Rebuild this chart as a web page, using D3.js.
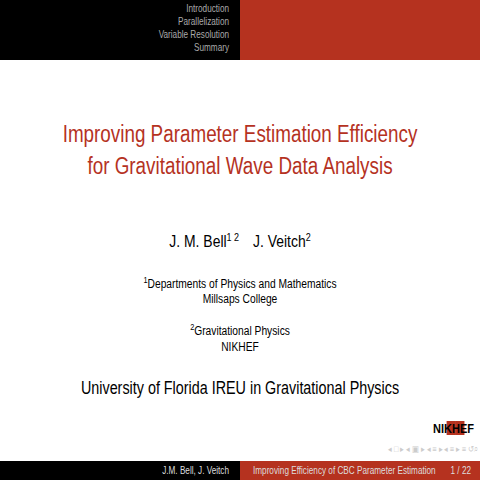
<!DOCTYPE html><html><head><meta charset="utf-8"><script src="https://cdn.jsdelivr.net/npm/d3@7"></script>
<style>body{margin:0}text{font-family:"Liberation Sans",sans-serif}</style></head><body><script>
const navItems=["Introduction","Parallelization","Variable Resolution","Summary"];
const titleLines=["Improving Parameter Estimation Efficiency","for Gravitational Wave Data Analysis"];
const affil1=["Departments of Physics and Mathematics","Millsaps College"];
const affil2=["Gravitational Physics","NIKHEF"];
const footer=["J.M. Bell, J. Veitch","Improving Efficiency of CBC Parameter Estimation","1 / 22"];
const red="#b5321f", K=0.82;
const svg=d3.select("body").append("svg").attr("width",480).attr("height",480);
svg.append("rect").attr("width",480).attr("height",480).attr("fill","#fff");
svg.append("rect").attr("width",240).attr("height",60).attr("fill","#000");
svg.append("rect").attr("x",240).attr("width",240).attr("height",60).attr("fill",red);
function T(ax,ay,anchor,size,fill){return svg.append("g").attr("transform",`translate(${ax},${ay}) scale(${K},1)`).append("text").attr("text-anchor",anchor).attr("font-size",size).attr("fill",fill||"#000");}
const y=d3.scaleLinear().domain([0,3]).range([12,51]);
navItems.forEach((d,i)=>T(229,y(i),"end",10,"#aaa").text(d));
titleLines.forEach((d,i)=>T(240,142+i*32,"middle",23,red).text(d));
const a=T(240,247,"middle",17);
a.append("tspan").text("J. M. Bell");a.append("tspan").attr("dy",-6).attr("font-size",11).text("1 2");
a.append("tspan").attr("dy",6).text("\u2002\u2002J. Veitch");a.append("tspan").attr("dy",-6).attr("font-size",11).text("2");
const f1=T(240,288,"middle",12.5);
f1.append("tspan").attr("dy",-5).attr("font-size",9).text("1");f1.append("tspan").attr("dy",5).text(affil1[0]);
T(240,303,"middle",12.5).text(affil1[1]);
const f2=T(240,335,"middle",12.5);
f2.append("tspan").attr("dy",-5).attr("font-size",9).text("2");f2.append("tspan").attr("dy",5).text(affil2[0]);
T(240,351,"middle",12.5).text(affil2[1]);
T(240,394,"middle",17.5).text("University of Florida IREU in Gravitational Physics");
// logo
const lg=svg.append("g").attr("transform","translate(433,433) scale(0.85,1)");
lg.append("rect").attr("x",16).attr("y",-12).attr("width",11).attr("height",14).attr("fill",red);
lg.append("rect").attr("x",27).attr("y",-12).attr("width",10).attr("height",14).attr("fill",red);
lg.append("text").attr("font-size",13).attr("font-weight","bold").text("NIKHEF");
T(478,452,"end",9,"#ccc").text("\u25C2 \u25A1 \u25B8 \u25C2 \u25A3 \u25B8 \u25C2 \u2261 \u25B8 \u25C2 \u2261 \u25B8   \u2261   \u21BA\u2315");
svg.append("rect").attr("y",461).attr("width",240).attr("height",19).attr("fill","#000");
svg.append("rect").attr("x",240).attr("y",461).attr("width",240).attr("height",19).attr("fill",red);
T(229,474,"end",10,"#ddd").text(footer[0]);
T(253,474,"start",10,"#ddd").text(footer[1]);
T(471,474,"end",10,"#ddd").text(footer[2]);
</script></body></html>
